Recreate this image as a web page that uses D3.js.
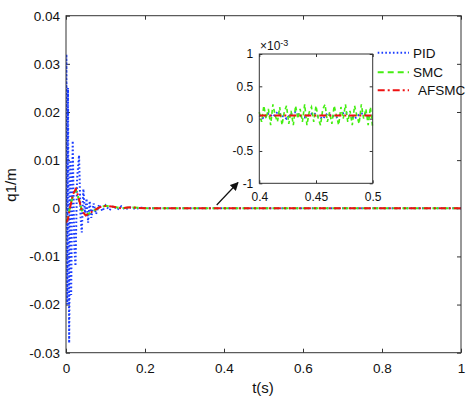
<!DOCTYPE html>
<html><head><meta charset="utf-8">
<script src="https://cdn.jsdelivr.net/npm/d3@7"></script>
<style>
body{margin:0;background:#fff;}
text{font-family:"Liberation Sans",Arial,sans-serif;fill:#111;}
</style></head>
<body>
<svg id="c" width="474" height="399"></svg>
<script>
// ---- data ----
const xTicks = [0, 0.2, 0.4, 0.6, 0.8, 1];
const yTicks = [-0.03, -0.02, -0.01, 0, 0.01, 0.02, 0.03, 0.04];
const insetXTicks = [0.4, 0.45, 0.5];
const insetYTicks = [-1, -0.5, 0, 0.5, 1];
const seriesNames = ["PID", "SMC", "AFSMC"];

// main chart: [t, q1]
const pidMain = [[0,0],[0.001,0.032],[0.003,-0.02],[0.005,0.025],[0.008,-0.028],[0.011,0.01],[0.013,-0.018],[0.017,0.014],[0.021,-0.008],[0.024,-0.012],[0.028,0.006],[0.033,0.011],[0.037,-0.002],[0.040,-0.005],[0.044,0.004],[0.048,-0.001],[0.052,0.002],[0.056,-0.003],[0.060,0.0015],[0.064,-0.002],[0.070,0.001],[0.076,-0.0012],[0.084,0.0008],[0.092,-0.0006],[0.100,0.0006],[0.110,-0.0004],[0.120,0.0005],[0.130,-0.0003],[0.140,0.0004],[0.150,-0.0003],[0.160,0.0002],[0.175,-0.0001],[0.190,0.0001],[0.21,0],[1,0]];
const smcMain = [[0,-0.0028],[0.005,-0.002],[0.010,0.0002],[0.018,0.0028],[0.025,0.0038],[0.032,0.002],[0.040,-0.0004],[0.050,-0.0014],[0.060,-0.001],[0.070,-0.0005],[0.085,0.0002],[0.100,0.0005],[0.120,0.0003],[0.140,0.0],[0.160,0.0002],[0.200,0],[1,0]];
const afsmcMain = [[0,-0.003],[0.005,-0.0022],[0.010,0.0],[0.018,0.003],[0.025,0.004],[0.032,0.0022],[0.040,-0.0005],[0.050,-0.0015],[0.060,-0.001],[0.070,-0.0005],[0.085,0.0002],[0.100,0.0005],[0.120,0.0003],[0.140,0.0],[0.160,0.0002],[0.200,0],[1,0]];

// inset (values ×1e-3), t from 0.4 to 0.5
const insetT0 = 0.4, smcStep = 0.002, pidStep = 0.004;
const smcInset = [0.1,-0.05,0.2,0.0,0.15,-0.1,0.22,0.05,-0.05,0.18,-0.1,0.1,0.2,-0.08,0.12,-0.1,0.2,0.0,0.15,-0.05,0.22,-0.1,0.1,0.18,-0.05,0.2,0.0,-0.1,0.15,0.22,-0.05,0.1,-0.08,0.2,0.05,-0.1,0.18,0.0,0.22,-0.05,0.12,-0.1,0.2,0.05,-0.08,0.22,0.0,0.15,-0.1,0.18,-0.15];
const pidInset = [0.05,0.0,0.08,0.03,0.1,0.05,0.0,0.07,0.1,0.04,0.02,0.06,0.09,0.03,0.0,0.08,0.05,0.02,0.07,0.1,0.04,0.0,0.06,0.09,0.03,0.05];
const afsmcInset = [[0.4,0.05],[0.5,0.05]];

// ---- drawing ----
const svg = d3.select("#c");
const colors = {PID:"#1a3cff", SMC:"#44ee11", AFSMC:"#ee1111"};
const dashes = {PID:"1.6,2.2", SMC:"6,4", AFSMC:"7,3,2,3"};
const fmt = d => String(+(+d).toFixed(3));

const x = d3.scaleLinear().domain([0,1]).range([66,461]);
const y = d3.scaleLinear().domain([-0.03,0.04]).range([352.7,15.7]);

const axisCol = "#333";
function styleAxis(g){ g.selectAll("path").remove(); g.selectAll("line").attr("stroke",axisCol); }

svg.append("g").attr("transform","translate(0,352.7)")
  .call(d3.axisBottom(x).tickValues(xTicks).tickSize(-4).tickPadding(11).tickFormat(fmt))
  .call(styleAxis).call(g=>g.selectAll("text").attr("font-size",13.5).attr("fill","#111"));
svg.append("g").attr("transform","translate(0,15.7)")
  .call(d3.axisTop(x).tickValues(xTicks).tickSize(-4).tickFormat(""))
  .call(styleAxis);
svg.append("g").attr("transform","translate(66,0)")
  .call(d3.axisLeft(y).tickValues(yTicks).tickSize(-4).tickPadding(6).tickFormat(fmt))
  .call(styleAxis).call(g=>g.selectAll("text").attr("font-size",13.5).attr("fill","#111"));
svg.append("g").attr("transform","translate(461,0)")
  .call(d3.axisRight(y).tickValues(yTicks).tickSize(-4).tickFormat(""))
  .call(styleAxis);

const line = d3.line().x(d=>x(d[0])).y(d=>y(d[1]));
const mainData = {PID:pidMain, SMC:smcMain, AFSMC:afsmcMain};
svg.append("clipPath").attr("id","mc").append("rect")
  .attr("x",66).attr("y",15.7).attr("width",395).attr("height",337);
seriesNames.forEach(n=>{
  svg.append("path").attr("d",line(mainData[n])).attr("fill","none")
    .attr("stroke",colors[n]).attr("stroke-width",2).attr("stroke-dasharray",dashes[n])
    .attr("clip-path","url(#mc)");
});
svg.append("rect").attr("x",66).attr("y",15.7).attr("width",395).attr("height",337)
  .attr("fill","none").attr("stroke",axisCol).attr("stroke-width",1);

// axis labels
svg.append("text").attr("x",263).attr("y",393).attr("text-anchor","middle").attr("font-size",15).text("t(s)");
svg.append("text").attr("transform","translate(16,185) rotate(-90)").attr("text-anchor","middle").attr("font-size",15).text("q1/m");

// inset
const ix = d3.scaleLinear().domain([0.4,0.5]).range([259.3,372.7]);
const iy = d3.scaleLinear().domain([-1,1]).range([183.3,54]);
svg.append("rect").attr("x",259.3).attr("y",54).attr("width",113.4).attr("height",129.3).attr("fill","#fff");
svg.append("g").attr("transform","translate(0,183.3)")
  .call(d3.axisBottom(ix).tickValues(insetXTicks).tickSize(-3).tickPadding(9).tickFormat(fmt))
  .call(styleAxis).call(g=>g.selectAll("text").attr("font-size",12).attr("fill","#111"));
svg.append("g").attr("transform","translate(259.3,0)")
  .call(d3.axisLeft(iy).tickValues(insetYTicks).tickSize(-3).tickPadding(6).tickFormat(fmt))
  .call(styleAxis).call(g=>g.selectAll("text").attr("font-size",12).attr("fill","#111"));
svg.append("g").attr("transform","translate(372.7,0)")
  .call(d3.axisRight(iy).tickValues(insetYTicks).tickSize(-3).tickFormat("")).call(styleAxis);
svg.append("g").attr("transform","translate(0,54)")
  .call(d3.axisTop(ix).tickValues(insetXTicks).tickSize(-3).tickFormat("")).call(styleAxis);

const iline = d3.line().x(d=>ix(d[0])).y(d=>iy(d[1]));
const insetData = {
  PID: pidInset.map((v,i)=>[insetT0+i*pidStep, v]),
  SMC: smcInset.map((v,i)=>[insetT0+i*smcStep, v]),
  AFSMC: afsmcInset
};
seriesNames.forEach(n=>{
  svg.append("path").attr("d",iline(insetData[n])).attr("fill","none")
    .attr("stroke",colors[n]).attr("stroke-width",n==="SMC"?1.6:2).attr("stroke-dasharray",n==="SMC"?"4,3":dashes[n]);
});
svg.append("rect").attr("x",259.3).attr("y",54).attr("width",113.4).attr("height",129.3)
  .attr("fill","none").attr("stroke",axisCol);
const exp = svg.append("text").attr("x",260).attr("y",50).attr("font-size",12);
exp.append("tspan").text("\u00d710");
exp.append("tspan").attr("dy",-4).attr("font-size",9).text("-3");

// legend
const legY = {PID:52.7, SMC:72.3, AFSMC:90.3};
const legTx = {PID:413, SMC:413, AFSMC:418};
seriesNames.forEach(n=>{
  svg.append("line").attr("x1",377.7).attr("x2",409).attr("y1",legY[n]).attr("y2",legY[n])
    .attr("stroke",colors[n]).attr("stroke-width",2).attr("stroke-dasharray",dashes[n]);
  svg.append("text").attr("x",legTx[n]).attr("y",legY[n]+5).attr("font-size",13.5).text(n);
});

// arrow
svg.append("defs").append("marker").attr("id","ah").attr("viewBox","0 0 10 10").attr("refX",9).attr("refY",5)
  .attr("markerWidth",7).attr("markerHeight",7).attr("orient","auto")
  .append("path").attr("d","M0,0 L10,5 L0,10 z").attr("fill","#111");
svg.append("line").attr("x1",216.7).attr("y1",205).attr("x2",238).attr("y2",182.5)
  .attr("stroke","#111").attr("stroke-width",1.2).attr("marker-end","url(#ah)");
</script>
</body></html>
